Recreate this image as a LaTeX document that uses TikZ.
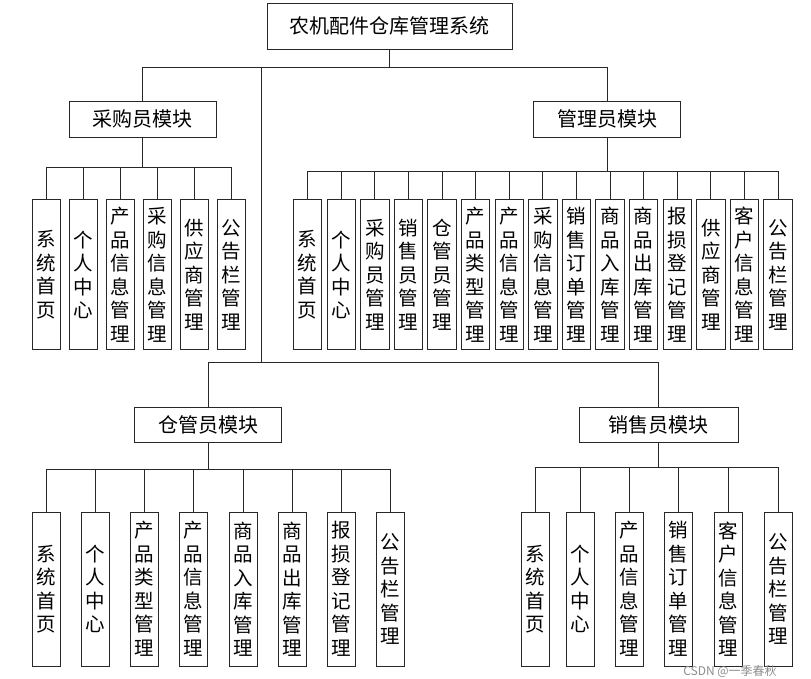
\documentclass[tikz,border=0pt]{standalone}
\usepackage{fontspec}
\newfontfamily\cjk{Noto Sans CJK SC}
\usetikzlibrary{calc}
\definecolor{linegray}{RGB}{40,40,40}

\begin{document}
\begin{tikzpicture}[x=1pt, y=-1pt,
    box/.style={draw=linegray, line width=0.9pt, fill=white, inner sep=0pt, font=\cjk\fontsize{20}{24}\selectfont},
    titlebox/.style={box, minimum width=245pt, minimum height=46pt},
    modbox/.style={box, minimum width=147pt, minimum height=36pt},
    leaf/.style={box, minimum width=28.5pt, minimum height=149.5pt, align=center, inner sep=1pt, font=\cjk\fontsize{19.5}{23.5}\selectfont},
    lowleaf/.style={leaf, minimum width=28pt, minimum height=154pt},
    link/.style={draw=linegray, line width=0.9pt}]

    \useasboundingbox (0,0) rectangle (811,679);

    % root and modules
    \node[titlebox] (root) at (389.5,26) {农机配件仓库管理系统};
    \node[modbox] (buyer) at (142.5,119) {采购员模块};
    \node[modbox] (admin) at (607,119) {管理员模块};
    \node[modbox, minimum height=35pt] (keeper) at (208,424.5) {仓管员模块};
    \node[modbox, minimum width=159pt, minimum height=35pt] (seller) at (658.5,424.5) {销售员模块};

    % bus points
    \coordinate (rootbus) at (389.5,67);
    \coordinate (trunk) at (261,67);
    \coordinate (lowbus) at (261,362);
    \coordinate (buyerbus) at (142.5,167);
    \coordinate (adminbus) at (607,171);
    \coordinate (keeperbus) at (208,469);
    \coordinate (sellerbus) at (658.5,467);

    % buyer leaves
    \node[leaf] (buyer1) at (46.5,274.7) {系\\统\\首\\页};
    \node[leaf] (buyer2) at (83.5,274.7) {个\\人\\中\\心};
    \node[leaf] (buyer3) at (120.5,274.7) {产\\品\\信\\息\\管\\理};
    \node[leaf] (buyer4) at (157.5,274.7) {采\\购\\信\\息\\管\\理};
    \node[leaf] (buyer5) at (194.5,274.7) {供\\应\\商\\管\\理};
    \node[leaf] (buyer6) at (231.5,274.7) {公\\告\\栏\\管\\理};

    % admin leaves
    \node[leaf] (admin1) at (307.6,274.7) {系\\统\\首\\页};
    \node[leaf] (admin2) at (341.2,274.7) {个\\人\\中\\心};
    \node[leaf] (admin3) at (374.8,274.7) {采\\购\\员\\管\\理};
    \node[leaf] (admin4) at (408.4,274.7) {销\\售\\员\\管\\理};
    \node[leaf] (admin5) at (442,274.7) {仓\\管\\员\\管\\理};
    \node[leaf] (admin6) at (475.6,274.7) {产\\品\\类\\型\\管\\理};
    \node[leaf] (admin7) at (509.2,274.7) {产\\品\\信\\息\\管\\理};
    \node[leaf] (admin8) at (542.8,274.7) {采\\购\\信\\息\\管\\理};
    \node[leaf] (admin9) at (576.4,274.7) {销\\售\\订\\单\\管\\理};
    \node[leaf] (admin10) at (610,274.7) {商\\品\\入\\库\\管\\理};
    \node[leaf] (admin11) at (643.6,274.7) {商\\品\\出\\库\\管\\理};
    \node[leaf] (admin12) at (677.2,274.7) {报\\损\\登\\记\\管\\理};
    \node[leaf] (admin13) at (710.8,274.7) {供\\应\\商\\管\\理};
    \node[leaf] (admin14) at (744.4,274.7) {客\\户\\信\\息\\管\\理};
    \node[leaf] (admin15) at (778,274.7) {公\\告\\栏\\管\\理};

    % keeper leaves
    \node[lowleaf] (keeper1) at (46.3,589) {系\\统\\首\\页};
    \node[lowleaf] (keeper2) at (95.7,589) {个\\人\\中\\心};
    \node[lowleaf] (keeper3) at (144.7,589) {产\\品\\类\\型\\管\\理};
    \node[lowleaf] (keeper4) at (193.7,589) {产\\品\\信\\息\\管\\理};
    \node[lowleaf] (keeper5) at (243,589) {商\\品\\入\\库\\管\\理};
    \node[lowleaf] (keeper6) at (292.3,589) {商\\品\\出\\库\\管\\理};
    \node[lowleaf] (keeper7) at (341.3,589) {报\\损\\登\\记\\管\\理};
    \node[lowleaf] (keeper8) at (390,589) {公\\告\\栏\\管\\理};

    % seller leaves
    \node[lowleaf] (seller1) at (535.7,589) {系\\统\\首\\页};
    \node[lowleaf] (seller2) at (580.3,589) {个\\人\\中\\心};
    \node[lowleaf] (seller3) at (629,589) {产\\品\\信\\息\\管\\理};
    \node[lowleaf] (seller4) at (678.3,589) {销\\售\\订\\单\\管\\理};
    \node[lowleaf] (seller5) at (728.3,589) {客\\户\\信\\息\\管\\理};
    \node[lowleaf] (seller6) at (778.3,589) {公\\告\\栏\\管\\理};

    % root -> modules
    \draw[link] (root) -- (rootbus);
    \draw[link] (rootbus) -| (buyer.north);
    \draw[link] (rootbus) -| (admin.north);
    \draw[link] (trunk) -- (lowbus);
    \draw[link] (lowbus) -| (keeper.north);
    \draw[link] (lowbus) -| (seller.north);

    % modules -> leaves
    \draw[link] (buyer) -- (buyerbus);
    \draw[link] (buyerbus) -| (buyer1.north) (buyerbus) -| (buyer2.north)
        (buyerbus) -| (buyer3.north) (buyerbus) -| (buyer4.north)
        (buyerbus) -| (buyer5.north) (buyerbus) -| (buyer6.north);

    \draw[link] (admin) -- (adminbus);
    \draw[link] (adminbus) -| (admin1.north) (adminbus) -| (admin2.north)
        (adminbus) -| (admin3.north) (adminbus) -| (admin4.north)
        (adminbus) -| (admin5.north) (adminbus) -| (admin6.north)
        (adminbus) -| (admin7.north) (adminbus) -| (admin8.north)
        (adminbus) -| (admin9.north) (adminbus) -| (admin10.north)
        (adminbus) -| (admin11.north) (adminbus) -| (admin12.north)
        (adminbus) -| (admin13.north) (adminbus) -| (admin14.north)
        (adminbus) -| (admin15.north);

    \draw[link] (keeper) -- (keeperbus);
    \draw[link] (keeperbus) -| (keeper1.north) (keeperbus) -| (keeper2.north)
        (keeperbus) -| (keeper3.north) (keeperbus) -| (keeper4.north)
        (keeperbus) -| (keeper5.north) (keeperbus) -| (keeper6.north)
        (keeperbus) -| (keeper7.north) (keeperbus) -| (keeper8.north);

    \draw[link] (seller) -- (sellerbus);
    \draw[link] (sellerbus) -| (seller1.north) (sellerbus) -| (seller2.north)
        (sellerbus) -| (seller3.north) (sellerbus) -| (seller4.north)
        (sellerbus) -| (seller5.north) (sellerbus) -| (seller6.north);

    % watermark
    \node[font=\cjk\fontsize{12}{14}\selectfont, text=black!45, inner sep=0pt] (mark) at (730,671) {CSDN @一季春秋};
\end{tikzpicture}
\end{document}
